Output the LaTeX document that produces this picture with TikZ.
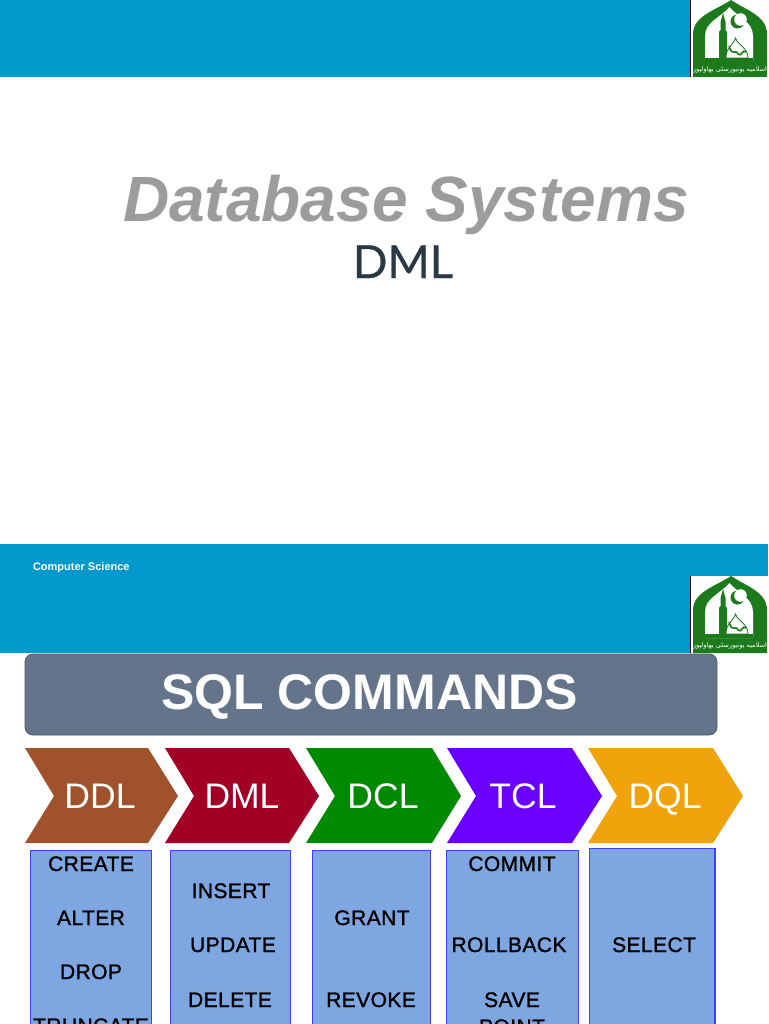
\documentclass[tikz,border=0pt]{standalone}
\usepackage{fontspec}
\setmainfont{Liberation Sans}
\newfontfamily\latofont[FakeBold=0.6]{Lato}
\newfontfamily\cmdfont[FakeBold=1.3,LetterSpace=2]{Liberation Sans}
\newfontfamily\arabicfont[Script=Arabic]{DejaVu Sans}
\TeXXeTstate=1
\definecolor{band}{HTML}{0099CC}
\definecolor{logogreen}{HTML}{1C7A1C}
\definecolor{slate}{HTML}{64748A}
\definecolor{slateline}{HTML}{4A5A70}
\definecolor{boxfill}{HTML}{7EA6E0}
\definecolor{boxline}{HTML}{3F3FFF}
\definecolor{cddl}{HTML}{A0522D}
\definecolor{cdml}{HTML}{A20025}
\definecolor{cdcl}{HTML}{008A00}
\definecolor{ctcl}{HTML}{6A00FF}
\definecolor{cdql}{HTML}{F0A30A}
\definecolor{titlegray}{HTML}{9C9C9C}
\definecolor{dmlink}{HTML}{2A3A45}
\tikzset{
  px/.style={inner sep=0pt,outer sep=0pt},
  cmdbox/.style={draw=boxline,line width=0.9pt,fill=boxfill},
  cmdtext/.style={px,anchor=base,text=black,font=\cmdfont\fontsize{21}{21}\selectfont},
  chevlabel/.style={px,anchor=base,text=white,font=\fontsize{35.5}{36}\selectfont},
  uniLogo/.pic={
    \fill[white] (690,0) rectangle (768,77);
    \draw[black,line width=1pt] (690.5,0) -- (690.5,77);
    \fill[logogreen] (693,77) -- (693,34) .. controls (693,16) and (716,10) .. (731,0)
       .. controls (746,10) and (767,16) .. (767,34) -- (767,77) -- cycle;
    \fill[white] (705,62) -- (705,36) .. controls (705,22) and (720,18) .. (729.5,7)
       .. controls (739,18) and (753,22) .. (753,36) -- (753,62) -- cycle;
    \fill[logogreen] (719,60) -- (719,32) -- (720.5,30) -- (720.5,22) -- (723,13) -- (725.5,22) -- (725.5,30) -- (727,32) -- (727,60) -- cycle;
    \fill[logogreen] (737.5,21.5) circle[radius=7];
    \fill[white] (740.5,19.5) circle[radius=6.3];
    \draw[logogreen,fill=white,line width=0.8pt] (726,58) .. controls (726,47) and (733,46) .. (735.5,38)
       .. controls (738,46) and (748,47) .. (748,58) -- cycle;
    \draw[logogreen,line width=1.6pt] (729,46) .. controls (733,58) and (735,48) .. (738,54)
       .. controls (741,58) and (743,48) .. (746,52);
    \fill[logogreen] (705,58) rectangle (753,62);
    \node[px,text=white,font=\arabicfont\fontsize{6.6}{7}\selectfont] (urdu) at (730,70)
       {\beginR اسلامیه یونیورسٹی بهاولپور\endR};
  }
}
\begin{document}
\begin{tikzpicture}[x=1pt,y=-1pt]
\useasboundingbox (0,0) rectangle (768,1024);
\clip (0,0) rectangle (768,1024);
\fill[white] (0,0) rectangle (768,1024);
% bands
\fill[band] (0,0) rectangle (768,77);
\fill[band] (0,544) rectangle (768,653);
\pic (logoA) at (0,0) {uniLogo};
\pic (logoB) at (0,576) {uniLogo};
% titles
\node[px,anchor=base,text=titlegray,font=\bfseries\itshape\fontsize{64}{64}\selectfont] (title) at (406,222) {Database Systems};
\node[px,anchor=base,text=dmlink,font=\latofont\fontsize{45.5}{46}\selectfont] (sub) at (403,278) {DML};
\node[px,anchor=base west,text=white,font=\bfseries\fontsize{11}{11}\selectfont] (cs) at (33,570) {Computer Science};
% SQL header
\draw[fill=slate,draw=slateline,line width=0.8pt,rounded corners=8pt] (25,654) rectangle (717,735);
\node[px,anchor=base,text=white,font=\bfseries\fontsize{50}{50}\selectfont] (sql) at (369.5,709) {SQL COMMANDS};
% chevrons
\fill[cddl] (25,748) -- (148,748) -- (178,796) -- (148,843) -- (25,843) -- (54,796) -- cycle;
\fill[cdml] (165,748) -- (289,748) -- (319,796) -- (289,843) -- (165,843) -- (194,796) -- cycle;
\fill[cdcl] (306,748) -- (432,748) -- (461,796) -- (432,843) -- (306,843) -- (335,796) -- cycle;
\fill[ctcl] (447,748) -- (572,748) -- (602,796) -- (572,843) -- (447,843) -- (476,796) -- cycle;
\fill[cdql] (588,748) -- (713,748) -- (743,796) -- (713,843) -- (588,843) -- (617,796) -- cycle;
\node[chevlabel] (ddl) at (100,808) {DDL};
\node[chevlabel] (dml) at (242,808) {DML};
\node[chevlabel] (dcl) at (383,808) {DCL};
\node[chevlabel] (tcl) at (523,808) {TCL};
\node[chevlabel] (dql) at (665,808) {DQL};
% command boxes
\draw[cmdbox] (30.5,850.5) rectangle (151,1030);
\draw[cmdbox] (170.5,850.5) rectangle (290,1030);
\draw[cmdbox] (312.5,850.5) rectangle (430,1030);
\draw[cmdbox] (446,850.5) rectangle (578,1030);
\draw[cmdbox,line width=1.2pt] (589.5,848.5) rectangle (715,1030);
\node[cmdtext] (create) at (91,871) {CREATE};
\node[cmdtext] (alter) at (91,925) {ALTER};
\node[cmdtext] (drop) at (91,979) {DROP};
\node[cmdtext] (trunc) at (91,1033) {TRUNCATE};
\node[cmdtext] (insert) at (231,898) {INSERT};
\node[cmdtext] (update) at (233,952) {UPDATE};
\node[cmdtext] (delete) at (230,1007) {DELETE};
\node[cmdtext] (grant) at (372,925) {GRANT};
\node[cmdtext] (revoke) at (371,1007) {REVOKE};
\node[cmdtext] (commit) at (512,871) {COMMIT};
\node[cmdtext] (rollback) at (509,952) {ROLLBACK};
\node[cmdtext] (save) at (512,1007) {SAVE};
\node[cmdtext] (point) at (512,1034) {POINT};
\node[cmdtext] (select) at (654,952) {SELECT};
\end{tikzpicture}
\end{document}
